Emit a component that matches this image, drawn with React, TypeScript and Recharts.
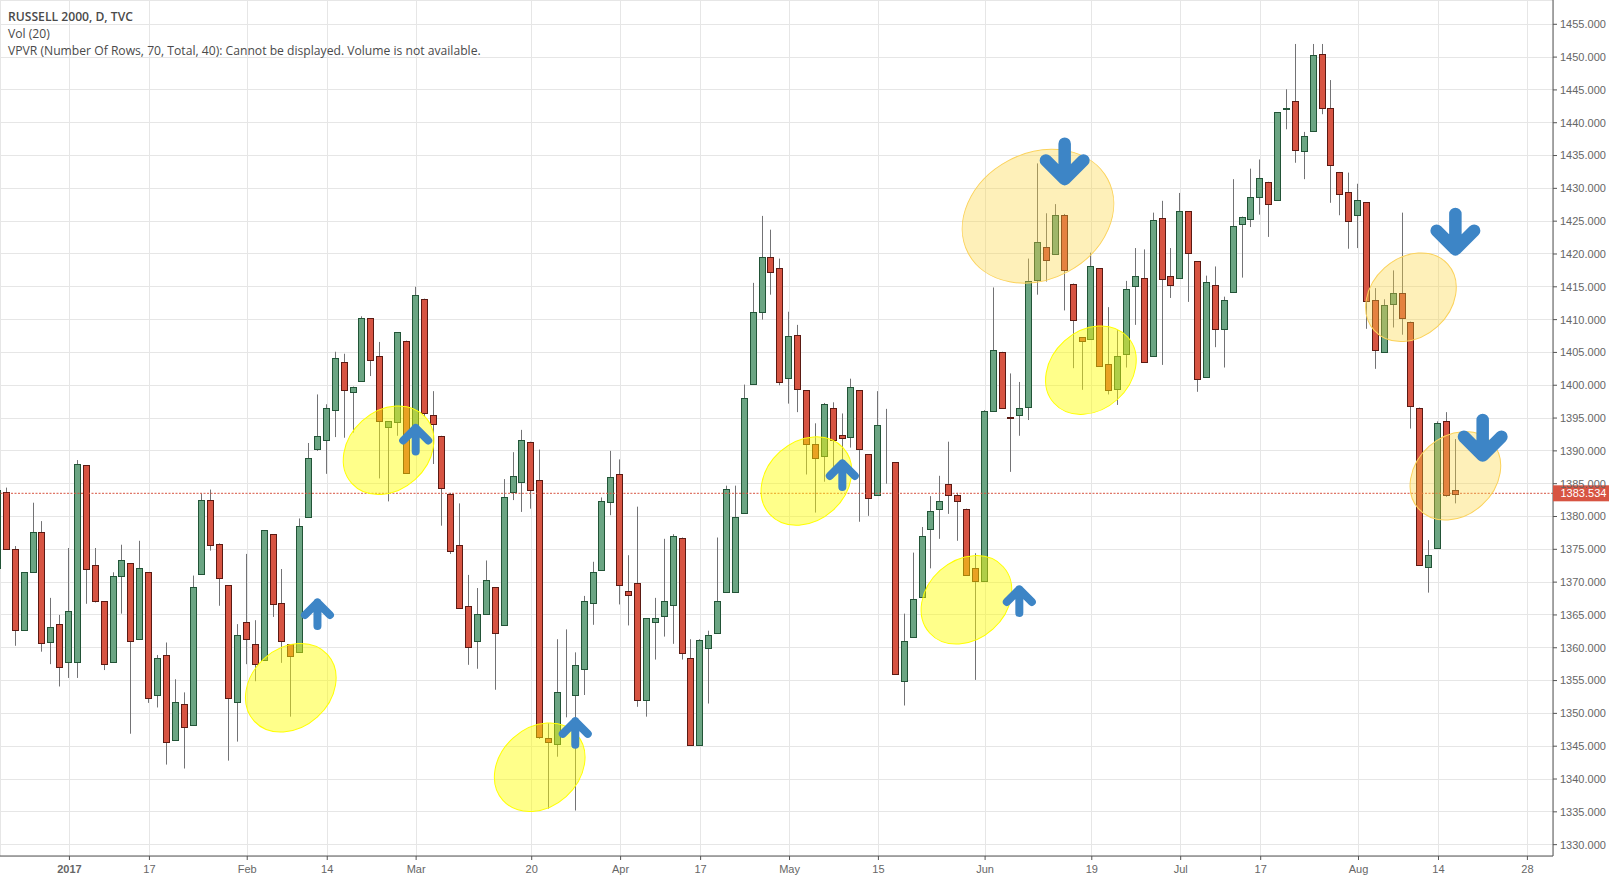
import {
  Bar,
  CartesianGrid,
  ComposedChart,
  ReferenceDot,
  ReferenceLine,
  XAxis,
  YAxis,
} from 'recharts';

const opens = [
  1372.1, 1383.7, 1375.0, 1362.7, 1371.6, 1377.7, 1360.9, 1363.6, 1357.9, 1357.9, 1387.8, 1372.6, 1367.1, 1357.8, 1370.9, 1372.9, 1361.4, 1371.5, 1352.8, 1358.9, 1345.9, 1351.4, 1348.2, 1371.2, 1382.5, 1375.8, 1369.5, 1351.7, 1364.0, 1360.5, 1358.1, 1377.3, 1366.8, 1360.5, 1359.3,
  1380.0, 1390.3, 1391.7, 1396.3, 1403.6, 1399.0, 1400.7, 1410.2, 1404.4, 1393.6, 1394.4, 1406.8, 1393.8, 1413.2, 1395.5, 1392.3, 1383.4, 1375.6, 1366.3, 1361.1, 1365.2, 1369.2, 1363.4, 1383.8, 1385.3, 1391.4, 1385.5, 1346.2, 1345.4, 1354.6, 1352.8, 1356.7, 1366.8, 1371.9, 1382.2,
  1386.4, 1368.6, 1369.8, 1352.0, 1363.9, 1364.8, 1366.5, 1376.8, 1358.5, 1345.2, 1359.9, 1362.3, 1368.5, 1368.5, 1380.5, 1400.2, 1411.1, 1419.6, 1417.9, 1401.1, 1407.6, 1399.2, 1391.1, 1389.2, 1396.5, 1392.4, 1392.1, 1399.2, 1389.5, 1383.3,
  1394.7, 1388.3, 1354.9, 1361.6, 1367.8, 1378.1, 1381.2, 1384.9, 1383.2, 1381.2, 1372.2, 1370.2, 1396.1, 1405.1, 1395.1, 1395.5, 1396.7, 1416.0, 1421.1, 1420.0, 1426.0, 1415.5, 1407.3, 1407.1, 1417.8, 1403.3, 1399.4, 1404.8, 1415.1, 1416.4,
  1404.5, 1425.5, 1416.7, 1416.4, 1426.5, 1418.9, 1401.3, 1415.3, 1408.6, 1414.2, 1424.5, 1425.4, 1428.7, 1431.0, 1428.3, 1442.1, 1443.3, 1435.7, 1438.8, 1450.5, 1442.2, 1432.5, 1429.5, 1426.0, 1427.9, 1413.0, 1405.1, 1412.4, 1414.0, 1409.7, 1396.6, 1372.3, 1375.2, 1394.6, 1384.1,
];
const highs = [
  1384.6, 1384.4, 1375.5, 1371.5, 1382.1, 1379.3, 1367.6, 1365.0, 1375.2, 1388.6, 1387.8, 1375.2, 1367.1, 1371.5, 1375.7, 1372.9, 1376.3, 1371.5, 1358.9, 1360.8, 1355.2, 1353.2, 1371.0, 1383.5, 1384.1, 1375.9, 1369.5, 1363.6, 1374.3, 1364.2, 1377.9, 1377.3, 1372.0, 1360.5, 1379.7,
  1391.2, 1398.6, 1397.1, 1405.1, 1404.8, 1399.8, 1410.5, 1410.2, 1406.6, 1394.5, 1408.1, 1406.8, 1415.0, 1413.2, 1399.1, 1392.3, 1383.6, 1382.0, 1371.1, 1369.1, 1373.3, 1369.2, 1385.7, 1389.8, 1393.2, 1391.4, 1390.2, 1348.5, 1361.3, 1362.8, 1359.3, 1367.9, 1373.1, 1382.9, 1390.0,
  1388.7, 1374.1, 1381.5, 1364.5, 1367.6, 1376.6, 1377.3, 1376.8, 1361.3, 1361.3, 1362.6, 1376.8, 1384.7, 1384.7, 1400.1, 1415.6, 1425.8, 1423.7, 1419.3, 1411.2, 1409.2, 1399.2, 1394.2, 1397.3, 1397.4, 1395.7, 1401.0, 1399.2, 1389.5, 1399.1,
  1396.4, 1388.3, 1365.2, 1374.5, 1378.4, 1383.1, 1386.2, 1391.4, 1383.6, 1381.2, 1374.4, 1396.2, 1414.9, 1405.1, 1401.8, 1400.5, 1419.3, 1433.8, 1426.2, 1427.6, 1426.1, 1415.5, 1407.3, 1420.2, 1417.8, 1411.9, 1408.4, 1415.9, 1420.9, 1420.7,
  1426.3, 1428.1, 1420.9, 1429.3, 1426.5, 1418.9, 1416.7, 1418.1, 1413.5, 1431.4, 1425.7, 1433.0, 1434.4, 1431.0, 1441.6, 1445.1, 1452.0, 1438.6, 1452.0, 1452.0, 1446.5, 1432.5, 1432.4, 1430.7, 1427.9, 1414.8, 1413.1, 1417.5, 1426.3, 1409.7, 1396.6, 1376.4, 1394.5, 1395.9, 1391.8,
];
const lows = [
  1372.1, 1375.1, 1360.3, 1362.7, 1371.6, 1359.4, 1357.5, 1354.1, 1355.4, 1355.4, 1366.7, 1366.9, 1356.6, 1357.8, 1365.2, 1346.9, 1361.4, 1351.6, 1350.9, 1342.2, 1345.9, 1341.6, 1348.2, 1371.2, 1374.8, 1366.4, 1342.8, 1345.7, 1357.5, 1354.9, 1358.1, 1364.7, 1357.7, 1349.5, 1359.3,
  1380.0, 1390.0, 1386.5, 1392.1, 1392.0, 1392.8, 1400.7, 1401.4, 1385.8, 1382.3, 1392.3, 1386.7, 1393.8, 1395.2, 1388.0, 1378.6, 1374.3, 1366.0, 1357.4, 1356.8, 1365.2, 1353.6, 1363.4, 1382.5, 1380.7, 1381.2, 1346.1, 1335.5, 1343.4, 1349.4, 1335.2, 1352.8, 1363.5, 1371.9, 1380.2,
  1366.6, 1363.4, 1351.0, 1349.5, 1358.2, 1361.7, 1360.6, 1358.2, 1345.2, 1345.2, 1351.5, 1362.3, 1368.5, 1368.5, 1380.5, 1400.2, 1410.0, 1413.8, 1400.0, 1397.2, 1395.9, 1386.4, 1380.6, 1385.3, 1386.8, 1388.4, 1390.5, 1379.2, 1380.1, 1383.3,
  1385.0, 1356.0, 1351.2, 1361.6, 1367.8, 1372.1, 1376.6, 1380.4, 1376.3, 1371.1, 1355.1, 1370.2, 1396.1, 1396.5, 1386.8, 1392.3, 1394.7, 1413.8, 1415.8, 1420.0, 1411.4, 1402.6, 1399.3, 1407.1, 1403.0, 1398.6, 1397.0, 1402.7, 1409.2, 1403.5,
  1404.5, 1403.1, 1413.3, 1416.4, 1412.7, 1399.0, 1401.3, 1405.8, 1402.7, 1414.2, 1416.4, 1424.1, 1426.0, 1422.6, 1428.3, 1439.0, 1433.9, 1431.4, 1438.8, 1441.3, 1427.8, 1425.9, 1420.8, 1420.9, 1408.6, 1402.5, 1405.1, 1408.8, 1407.7, 1393.4, 1372.6, 1368.4, 1375.2, 1383.0, 1382.0,
];
const closes = [
  1384.0, 1375.1, 1362.7, 1371.5, 1377.7, 1360.8, 1363.1, 1357.1, 1365.6, 1388.0, 1372.0, 1367.2, 1357.5, 1370.9, 1373.3, 1361.1, 1372.1, 1352.3, 1358.5, 1345.7, 1351.8, 1347.9, 1369.2, 1382.5, 1375.6, 1370.7, 1352.3, 1361.9, 1361.3, 1357.5, 1377.9, 1366.6, 1361.1, 1358.7, 1378.5,
  1388.9, 1392.3, 1396.6, 1404.2, 1399.2, 1399.8, 1410.3, 1403.9, 1394.6, 1394.5, 1408.1, 1386.7, 1413.7, 1395.7, 1394.1, 1384.3, 1374.8, 1366.0, 1360.1, 1365.2, 1370.3, 1362.3, 1382.9, 1386.1, 1391.6, 1384.1, 1346.4, 1345.6, 1353.3, 1354.6, 1357.3, 1367.2, 1371.6, 1382.3, 1386.0,
  1369.6, 1368.1, 1352.1, 1364.5, 1364.6, 1367.1, 1377.0, 1359.2, 1345.2, 1361.2, 1361.9, 1367.1, 1384.2, 1379.9, 1398.0, 1411.1, 1419.5, 1417.2, 1400.5, 1407.5, 1399.4, 1391.0, 1388.9, 1397.1, 1391.6, 1391.9, 1399.7, 1390.3, 1382.8, 1393.9,
  1394.7, 1356.0, 1361.1, 1367.4, 1377.1, 1380.9, 1382.4, 1383.3, 1382.3, 1371.1, 1370.2, 1396.0, 1405.4, 1396.5, 1395.0, 1396.6, 1415.9, 1421.8, 1419.1, 1426.0, 1417.6, 1410.0, 1406.7, 1418.1, 1403.0, 1399.2, 1404.5, 1414.7, 1416.6, 1403.5,
  1425.2, 1416.2, 1415.3, 1426.6, 1420.2, 1400.9, 1415.8, 1408.5, 1413.0, 1424.3, 1425.7, 1428.7, 1431.6, 1427.6, 1441.6, 1442.2, 1435.9, 1438.0, 1450.3, 1442.3, 1433.6, 1429.2, 1425.1, 1428.3, 1412.9, 1405.3, 1412.3, 1414.1, 1410.2, 1396.9, 1372.6, 1374.2, 1394.3, 1383.2, 1383.5,
];

const lastPrice = 1383.534;
const priceTicks = [1330, 1335, 1340, 1345, 1350, 1355, 1360, 1365, 1370, 1375, 1380, 1385, 1390, 1395, 1400, 1405, 1410, 1415, 1420, 1425, 1430, 1435, 1440, 1445, 1450, 1455];
const dateTicks = [8.1, 17.1, 28.1, 37.1, 47.1, 60.1, 70.1, 79.1, 89.1, 99.1, 111.1, 123.1, 133.1, 142.1, 153.1, 162.1, 172.1];
const dateLabels = ['2017', '17', 'Feb', '14', 'Mar', '20', 'Apr', '17', 'May', '15', 'Jun', '19', 'Jul', '17', 'Aug', '14', '28'];

// marked zones, as [bar, price]
const yellowZones = [[33, 1353.9], [44, 1390.1], [61, 1341.8], [91, 1385.4], [109, 1367.3], [123, 1402.3]];
const orangeZones = [[159, 1413.4], [164, 1386.2]];
const bigZone = [117.05, 1425.75];
const upArrows = [[36, 1365.1], [47.05, 1391.7], [65, 1347], [95.04, 1386.3], [114.95, 1367.1]];
const downArrows = [[120.05, 1434.1], [164, 1423.4], [167.07, 1392]];

const candles = opens.map((open, i) => ({
  i,
  open,
  high: highs[i],
  low: lows[i],
  close: closes[i],
  range: [lows[i], highs[i]],
}));

function Candle(props: any) {
  const {x, y, width, height, payload} = props;
  const {open, close, high, low} = payload;
  const perUnit = height / (high - low);
  const cx = Math.floor(x + width / 2) + 0.5;
  const up = close >= open;
  const top = Math.round(y + (high - Math.max(open, close)) * perUnit) + 0.5;
  const bottom = Math.round(y + (high - Math.min(open, close)) * perUnit) + 0.5;
  return (
    <g>
      <line x1={cx} x2={cx} y1={y} y2={y + height} stroke="#737375" strokeWidth={1} />
      <rect
        x={cx - 3}
        y={top}
        width={6}
        height={bottom - top}
        fill={up ? '#6ba583' : '#d75442'}
        stroke={up ? '#225437' : '#5b1a13'}
        strokeWidth={1}
      />
    </g>
  );
}

function Zone({cx, cy, rx, ry, angle, color, edge}: any) {
  return (
    <ellipse
      cx={cx}
      cy={cy}
      rx={rx}
      ry={ry}
      transform={`rotate(${angle} ${cx} ${cy})`}
      fill={color}
      stroke={edge}
      strokeWidth={1}
    />
  );
}

function Arrow({cx, cy, dir, size}: any) {
  // size is half the arrow's height, w the stroke
  const w = size === 'big' ? 12.5 : 8;
  const h = (size === 'big' ? 24 : 15.75) - w / 2;
  const wing = size === 'big' ? 18.75 : 12.5;
  const tip = cy + dir * h;
  const d = `M${cx} ${cy - dir * h}L${cx} ${tip}M${cx - wing} ${tip - dir * wing}L${cx} ${tip}L${cx + wing} ${tip - dir * wing}`;
  return <path d={d} fill="none" stroke="#3d85c6" strokeWidth={w} strokeLinecap="round" strokeLinejoin="round" />;
}

function PriceTag({cx, cy}: any) {
  return (
    <g>
      <rect x={cx} y={cy - 8} width={56} height={16} fill="#d75442" />
      <text x={cx + 7.5} y={cy + 4} fill="#fff" fontSize={11} fontFamily="Liberation Sans">
        {lastPrice.toFixed(3)}
      </text>
    </g>
  );
}

function DateTick({x, y, index}: any) {
  const label = dateLabels[index];
  return (
    <text
      x={x}
      y={y + 11}
      textAnchor="middle"
      fill="#666"
      fontSize={11}
      fontWeight={label === '2017' ? 'bold' : 'normal'}
      fontFamily="Liberation Sans"
    >
      {label}
    </text>
  );
}

const legendLine = {height: 17, whiteSpace: 'nowrap'} as const;

export default function App() {
  return (
    <div style={{position: 'absolute', left: 0, top: 0, width: 1609, height: 875, background: '#fff'}}>
      <ComposedChart
        width={1609}
        height={875}
        data={candles}
        margin={{top: 0, right: 0, bottom: 0, left: 0}}
      >
        <CartesianGrid stroke="#e6e6e6" shapeRendering="crispEdges" />
        <XAxis
          dataKey="i"
          type="number"
          domain={[0.291, 174.98]}
          allowDataOverflow
          ticks={dateTicks}
          interval={0}
          height={19}
          stroke="#555"
          tickSize={4}
          tick={<DateTick />}
        />
        <YAxis
          orientation="right"
          type="number"
          domain={[1328.27, 1458.7]}
          allowDataOverflow
          ticks={priceTicks}
          interval={0}
          width={56}
          stroke="#555"
          tickSize={4}
          tickMargin={3}
          tickFormatter={(v) => v.toFixed(3)}
          tick={{fill: '#666', fontSize: 11, fontFamily: 'Liberation Sans', textAnchor: 'start'}}
        />
        <Bar
          dataKey="range"
          barSize={7}
          isAnimationActive={false}
          shape={(props: any) => <Candle {...props} />}
        />
        <ReferenceLine y={lastPrice} stroke="#d75442" strokeDasharray="2 1.5" />
        <ReferenceDot
          x={174.98}
          y={lastPrice}
          ifOverflow="visible"
          shape={(p: any) => <PriceTag {...p} />}
        />
        {yellowZones.map(([x, y]) => (
          <ReferenceDot
            key={x}
            x={x}
            y={y}
            ifOverflow="visible"
            shape={(p: any) => (
              <Zone {...p} rx={49.5} ry={39.5} angle={-42} color="rgba(255,255,0,0.46)" edge="#ffff00" />
            )}
          />
        ))}
        {orangeZones.map(([x, y]) => (
          <ReferenceDot
            key={x}
            x={x}
            y={y}
            ifOverflow="visible"
            shape={(p: any) => (
              <Zone {...p} rx={49.5} ry={39.5} angle={-42} color="rgba(252,213,60,0.36)" edge="#fbd25a" />
            )}
          />
        ))}
        <ReferenceDot
          x={bigZone[0]}
          y={bigZone[1]}
          ifOverflow="visible"
          shape={(p: any) => (
            <Zone {...p} rx={79} ry={63} angle={-28} color="rgba(252,213,60,0.36)" edge="#fbd25a" />
          )}
        />
        {upArrows.map(([x, y]) => (
          <ReferenceDot
            key={x}
            x={x}
            y={y}
            ifOverflow="visible"
            shape={(p: any) => <Arrow {...p} dir={-1} size="small" />}
          />
        ))}
        {downArrows.map(([x, y]) => (
          <ReferenceDot
            key={x}
            x={x}
            y={y}
            ifOverflow="visible"
            shape={(p: any) => <Arrow {...p} dir={1} size="big" />}
          />
        ))}
      </ComposedChart>
      <div
        style={{
          position: 'absolute',
          left: 8,
          top: 8,
          fontFamily: 'Open Sans',
          fontSize: 12.15,
          lineHeight: '17px',
          color: '#4a4a4a',
        }}
      >
        <div style={{...legendLine, fontWeight: 600}}>RUSSELL 2000, D, TVC</div>
        <div style={legendLine}>Vol (20)</div>
        <div style={legendLine}>VPVR (Number Of Rows, 70, Total, 40): Cannot be displayed. Volume is not available.</div>
      </div>
    </div>
  );
}
